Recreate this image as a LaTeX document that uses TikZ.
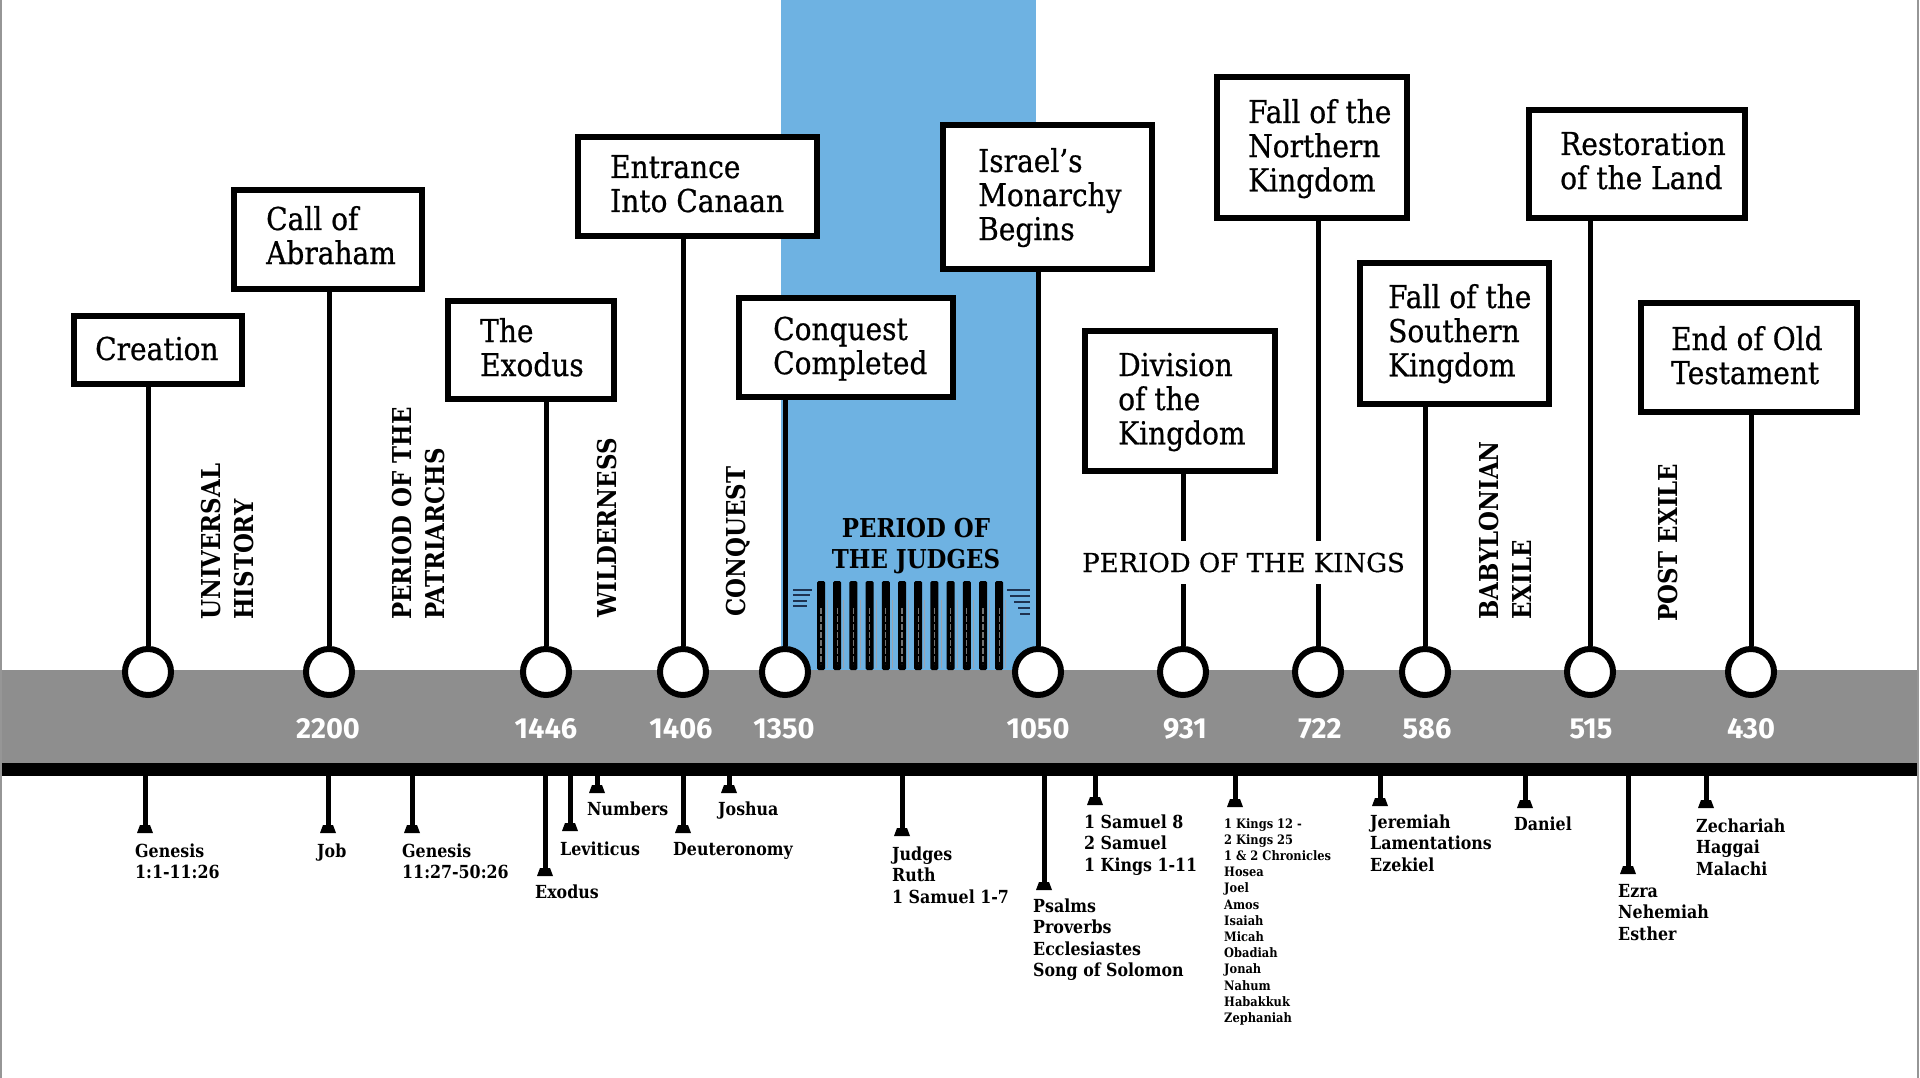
\documentclass[tikz,border=0pt]{standalone}
\usepackage{fontspec}
\newfontfamily\boxfont[FakeStretch=0.89,FakeBold=0.6]{DejaVu Serif}
\newfontfamily\labfont[FakeStretch=0.88]{DejaVu Serif}
\newfontfamily\kingsfont[FakeBold=0.5]{DejaVu Serif}
\newfontfamily\yearfont{Fira Sans}
\newcommand\ml[1]{\begin{tabular}[t]{@{}l@{}}#1\end{tabular}}
\newcommand\mc[1]{\begin{tabular}[t]{@{}c@{}}#1\end{tabular}}
\definecolor{bandblue}{RGB}{110,178,226}
\definecolor{bargray}{RGB}{142,142,142}
\definecolor{framegray}{RGB}{150,150,150}
\definecolor{navy}{RGB}{30,50,80}
\newcommand\hang[3]{%
  \coordinate (#1t) at (#2,776);
  \coordinate (#1f) at (#2,#3);
  \draw[stem] (#1t) -- (#1f);
  \fill (#1f) ++(-8,3) -- ++(3,-8) -- ++(10,0) -- ++(3,8) -- cycle;
}
\begin{document}
\begin{tikzpicture}[x=1pt,y=-1pt,
  box/.style={draw=black, line width=6pt, fill=white, inner sep=0pt, rectangle},
  boxtext/.style={font={\boxfont\fontsize{31.5}{34}\selectfont}, inner sep=0pt, anchor=base west},
  dot/.style={circle, draw=black, line width=6pt, fill=white, minimum size=46pt, inner sep=0pt},
  stem/.style={line width=5pt, draw=black},
  year/.style={font={\yearfont\bfseries\fontsize{29}{30}\selectfont}, text=white, anchor=base, inner sep=0pt},
  era/.style={font={\labfont\bfseries\fontsize{26}{33}\selectfont}, rotate=90, anchor=north west, inner sep=0pt},
  book/.style={font={\labfont\bfseries\fontsize{18}{21.5}\selectfont}, anchor=base west, inner sep=0pt},
  smallbook/.style={font={\labfont\bfseries\fontsize{13}{16.2}\selectfont}, anchor=base west, inner sep=0pt},
]
\useasboundingbox (0,0) rectangle (1920,1078);
\fill[white] (0,0) rectangle (1920,1078);
% blue band
\fill[bandblue] (781,0) rectangle (1036,670);
% timeline bar
\fill[bargray] (0,670) rectangle (1917,763);
\fill[black] (0,763) rectangle (1917,776);
% frame
\draw[framegray, line width=1.5pt] (1,0) -- (1,1078);
\draw[framegray, line width=1.5pt] (1918,0) -- (1918,1078);

% judges mini bars
\foreach \i in {0,...,11} {
  \pgfmathsetmacro{\xx}{821+16.2*\i}
  \fill[black, rounded corners=1.5pt] (\xx-4,581) rectangle (\xx+4,670);
  \draw[black!55, line width=1.3pt, dash pattern=on 6pt off 2pt] (\xx,608) -- (\xx,664);
  \draw[navy!45, line width=0.6pt] (\xx+6.5,600) -- (\xx+6.5,668);
}
\foreach \yy/\ww in {590/19,595/17,601/14,606/14} \draw[navy, line width=1.3pt] (793,\yy) -- ++(\ww,0);
\foreach \yy/\ww in {590/23,596/20,602/16,608/12,614/10} \draw[navy, line width=1.3pt] (1030-\ww,\yy) -- (1030,\yy);

\node[font={\labfont\bfseries\fontsize{26}{31}\selectfont}, anchor=base, inner sep=0pt] (judges) at (916,537) {\mc{PERIOD OF\\THE JUDGES}};

% boxes
\node[box, minimum width=168pt, minimum height=68pt] (b1) at (158,350) {};
\node[box, minimum width=188pt, minimum height=99pt] (b2) at (328,239.5) {};
\node[box, minimum width=166pt, minimum height=98pt] (b3) at (531,350) {};
\node[box, minimum width=239pt, minimum height=99pt] (b4) at (697.5,186.5) {};
\node[box, minimum width=214pt, minimum height=99pt] (b5) at (846,347.5) {};
\node[box, minimum width=209pt, minimum height=144pt] (b6) at (1047.5,197) {};
\node[box, minimum width=190pt, minimum height=141pt] (b7) at (1312,147.5) {};
\node[box, minimum width=190pt, minimum height=140pt] (b8) at (1180,401) {};
\node[box, minimum width=189pt, minimum height=141pt] (b9) at (1454.5,333.5) {};
\node[box, minimum width=216pt, minimum height=108pt] (b10) at (1637,164) {};
\node[box, minimum width=216pt, minimum height=109pt] (b11) at (1749,357.5) {};

\node[boxtext] (t1) at (95,360) {\ml{Creation}};
\node[boxtext] (t2) at (266,230) {\ml{Call of\\Abraham}};
\node[boxtext] (t3) at (480,342) {\ml{The\\Exodus}};
\node[boxtext] (t4) at (610,178) {\ml{Entrance\\Into Canaan}};
\node[boxtext] (t5) at (773,340) {\ml{Conquest\\Completed}};
\node[boxtext] (t6) at (978,172) {\ml{Israel’s\\Monarchy\\Begins}};
\node[boxtext] (t7) at (1248,123) {\ml{Fall of the\\Northern\\Kingdom}};
\node[boxtext] (t8) at (1118,376) {\ml{Division\\of the\\Kingdom}};
\node[boxtext] (t9) at (1388,308) {\ml{Fall of the\\Southern\\Kingdom}};
\node[boxtext] (t10) at (1560,155) {\ml{Restoration\\of the Land}};
\node[boxtext] (t11) at (1671,350) {\ml{End of Old\\Testament}};

% circles
\node[dot] (c1) at (148,672) {};
\node[dot] (c2) at (329,672) {};
\node[dot] (c3) at (546,672) {};
\node[dot] (c4) at (683,672) {};
\node[dot] (c5) at (785,672) {};
\node[dot] (c6) at (1038,672) {};
\node[dot] (c7) at (1318,672) {};
\node[dot] (c8) at (1183,672) {};
\node[dot] (c9) at (1425,672) {};
\node[dot] (c10) at (1590,672) {};
\node[dot] (c11) at (1751,672) {};

\foreach \k in {1,...,11} \draw[stem] (b\k.south -| c\k.center) -- (c\k.north);

% period of the kings (interrupts two stems)
\node[font={\kingsfont\fontsize{26}{30}\selectfont}, anchor=base west, fill=white, inner xsep=0pt, inner ysep=12pt] (kings) at (1082,572) {PERIOD OF THE KINGS};

% era labels
\node[era] (e1) at (197,620) {\ml{UNIVERSAL\\HISTORY}};
\node[era] (e2) at (388,620) {\ml{PERIOD OF THE\\PATRIARCHS}};
\node[era] (e3) at (593,618) {\ml{WILDERNESS}};
\node[era] (e4) at (722,617) {\ml{CONQUEST}};
\node[era] (e5) at (1475,620) {\ml{BABYLONIAN\\EXILE}};
\node[era] (e6) at (1654,622) {\ml{POST EXILE}};

% years
\node[year] (y2) at (328,738) {2200};
\node[year] (y3) at (546,738) {1446};
\node[year] (y4) at (681,738) {1406};
\node[year] (y5) at (784,738) {1350};
\node[year] (y6) at (1038,738) {1050};
\node[year] (y8) at (1185,738) {931};
\node[year] (y7) at (1320,738) {722};
\node[year] (y9) at (1427,738) {586};
\node[year] (y10) at (1591,738) {515};
\node[year] (y11) at (1751,738) {430};

% hanging book markers
\hang{gen}{145}{830}
\hang{job}{328}{830}
\hang{gentwo}{412}{830}
\hang{exo}{545}{873}
\hang{lev}{570}{828}
\hang{num}{597}{790}
\hang{deu}{683}{830}
\hang{jos}{729}{790}
\hang{jud}{902}{833}
\hang{psa}{1044}{887}
\hang{sam}{1095}{802}
\hang{kgs}{1235}{804}
\hang{jer}{1380}{803}
\hang{dan}{1525}{805}
\hang{ezr}{1628}{871}
\hang{zec}{1706}{805}

\node[book] (lgen) at (135,857) {\ml{Genesis\\1:1-11:26}};
\node[book] (ljob) at (317,857) {\ml{Job}};
\node[book] (lgentwo) at (402,857) {\ml{Genesis\\11:27-50:26}};
\node[book] (lexo) at (535,898) {\ml{Exodus}};
\node[book] (llev) at (560,855) {\ml{Leviticus}};
\node[book] (lnum) at (587,815) {\ml{Numbers}};
\node[book] (ldeu) at (673,855) {\ml{Deuteronomy}};
\node[book] (ljos) at (718,815) {\ml{Joshua}};
\node[book] (ljud) at (892,860) {\ml{Judges\\Ruth\\1 Samuel 1-7}};
\node[book] (lpsa) at (1033,912) {\ml{Psalms\\Proverbs\\Ecclesiastes\\Song of Solomon}};
\node[book] (lsam) at (1084,828) {\ml{1 Samuel 8\\2 Samuel\\1 Kings 1-11}};
\node[smallbook] (lkgs) at (1224,828) {\ml{1 Kings 12 -\\2 Kings 25\\1 \& 2 Chronicles\\Hosea\\Joel\\Amos\\Isaiah\\Micah\\Obadiah\\Jonah\\Nahum\\Habakkuk\\Zephaniah}};
\node[book] (ljer) at (1370,828) {\ml{Jeremiah\\Lamentations\\Ezekiel}};
\node[book] (ldan) at (1514,830) {\ml{Daniel}};
\node[book] (lezr) at (1618,897) {\ml{Ezra\\Nehemiah\\Esther}};
\node[book] (lzec) at (1696,832) {\ml{Zechariah\\Haggai\\Malachi}};
\end{tikzpicture}
\end{document}
